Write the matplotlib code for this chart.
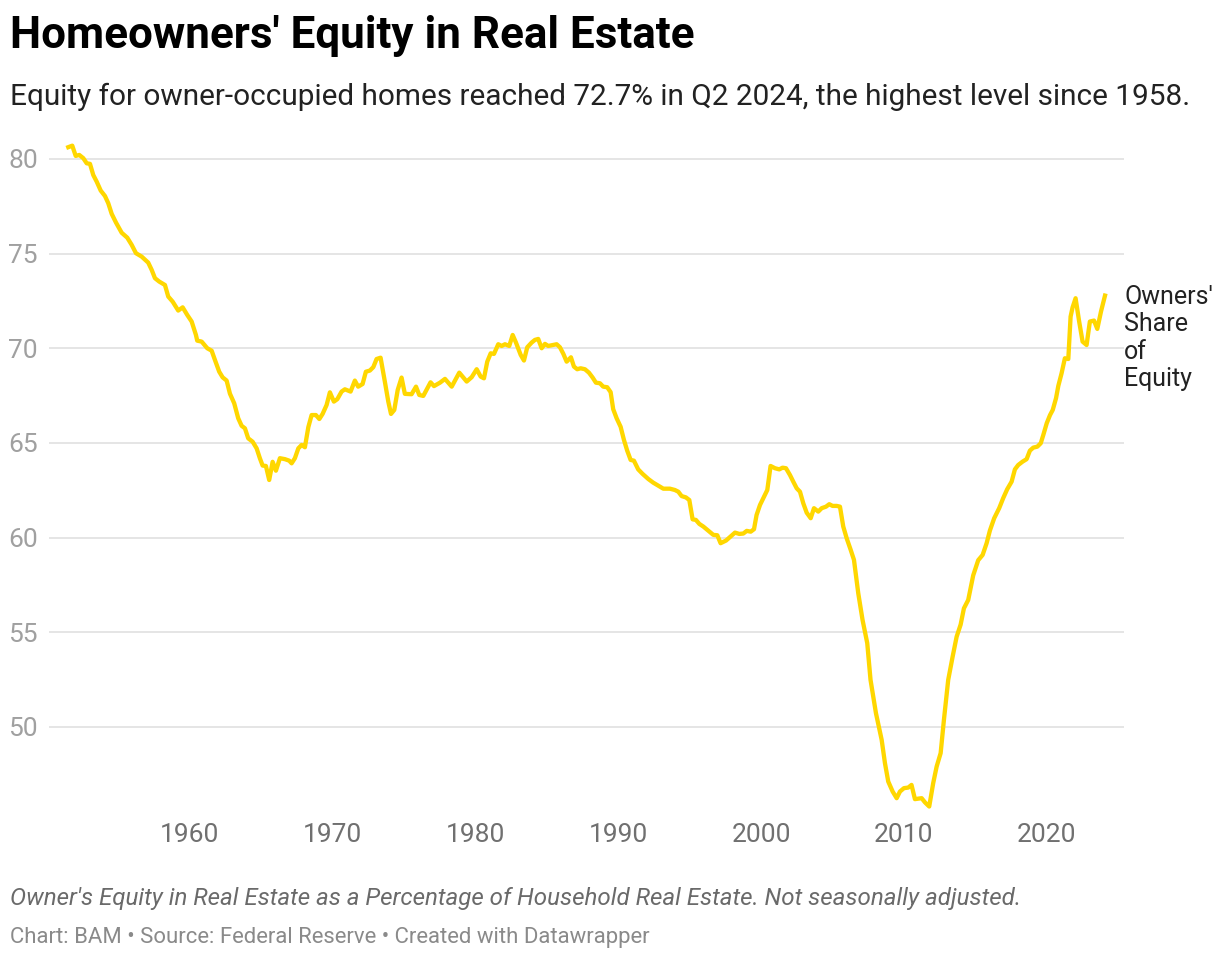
import matplotlib.pyplot as plt

# owners' equity as % of household real estate
years = [1951.48, 1951.76, 1952.00, 1952.25, 1952.53, 1952.77, 1953.00, 1953.23, 1953.47, 1953.75,
         1954.05, 1954.28, 1954.52, 1954.82, 1955.22, 1955.61, 1955.92, 1956.22, 1956.62, 1957.08,
         1957.32, 1957.55, 1957.85, 1958.25, 1958.48, 1958.79, 1959.18, 1959.49, 1959.81, 1960.12,
         1960.42, 1960.51, 1960.82, 1961.21, 1961.52, 1961.75, 1962.05, 1962.29, 1962.57, 1962.80,
         1963.10, 1963.38, 1963.62, 1963.85, 1964.08, 1964.39, 1964.67, 1964.90, 1965.09, 1965.32,
         1965.55, 1965.79, 1966.02, 1966.30, 1966.65, 1966.95, 1967.12, 1967.35, 1967.59, 1967.82,
         1968.05, 1968.29, 1968.52, 1968.82, 1969.06, 1969.29, 1969.57, 1969.80, 1970.08, 1970.32,
         1970.62, 1970.85, 1971.25, 1971.55, 1971.78, 1972.09, 1972.32, 1972.60, 1972.84, 1973.07,
         1973.35, 1973.65, 1973.89, 1974.08, 1974.31, 1974.55, 1974.82, 1975.05, 1975.52, 1975.83,
         1976.06, 1976.34, 1976.85, 1977.09, 1977.51, 1977.86, 1978.33, 1978.86, 1979.38, 1979.73,
         1980.08, 1980.36, 1980.59, 1980.82, 1981.06, 1981.29, 1981.59, 1981.83, 1982.06, 1982.36,
         1982.60, 1982.83, 1983.16, 1983.39, 1983.62, 1983.93, 1984.16, 1984.39, 1984.63, 1984.86,
         1985.09, 1985.40, 1985.68, 1985.91, 1986.15, 1986.38, 1986.68, 1986.89, 1987.12, 1987.36,
         1987.66, 1987.94, 1988.20, 1988.43, 1988.71, 1988.94, 1989.22, 1989.46, 1989.64, 1989.88,
         1990.16, 1990.39, 1990.62, 1990.86, 1991.09, 1991.39, 1991.70, 1992.10, 1992.44, 1992.79,
         1993.15, 1993.61, 1993.96, 1994.20, 1994.43, 1994.73, 1994.97, 1995.20, 1995.43, 1995.67,
         1995.95, 1996.30, 1996.65, 1996.93, 1997.16, 1997.54, 1997.86, 1998.17, 1998.47, 1998.75,
         1998.99, 1999.27, 1999.50, 1999.68, 1999.92, 2000.15, 2000.43, 2000.66, 2000.97, 2001.27,
         2001.50, 2001.74, 2002.02, 2002.25, 2002.49, 2002.72, 2002.95, 2003.19, 2003.47, 2003.70,
         2004.00, 2004.24, 2004.54, 2004.77, 2005.00, 2005.29, 2005.52, 2005.75, 2005.99, 2006.27,
         2006.50, 2006.80, 2007.10, 2007.43, 2007.66, 2008.04, 2008.44, 2008.67, 2008.90, 2009.21,
         2009.49, 2009.72, 2010.00, 2010.30, 2010.53, 2010.77, 2011.24, 2011.47, 2011.77, 2012.05,
         2012.29, 2012.57, 2012.80, 2013.10, 2013.41, 2013.69, 2013.97, 2014.20, 2014.50, 2014.85,
         2015.20, 2015.51, 2015.79, 2016.02, 2016.32, 2016.67, 2016.95, 2017.23, 2017.54, 2017.77,
         2018.00, 2018.31, 2018.59, 2018.82, 2019.06, 2019.34, 2019.58, 2019.76, 2020.00, 2020.23,
         2020.42, 2020.65, 2020.81, 2021.04, 2021.27, 2021.51, 2021.67, 2021.81, 2022.02, 2022.27,
         2022.51, 2022.79, 2023.02, 2023.31, 2023.54, 2023.80, 2024.08]
equity = [80.62, 80.70, 80.16, 80.21, 80.04, 79.77, 79.74, 79.15, 78.80, 78.33,
          78.04, 77.66, 77.10, 76.64, 76.10, 75.84, 75.46, 75.02, 74.84, 74.52,
          74.14, 73.70, 73.52, 73.34, 72.73, 72.46, 71.99, 72.16, 71.76, 71.41,
          70.70, 70.40, 70.35, 70.00, 69.87, 69.38, 68.76, 68.46, 68.29, 67.60,
          67.09, 66.30, 65.90, 65.77, 65.24, 65.06, 64.71, 64.18, 63.80, 63.78,
          63.04, 64.00, 63.53, 64.19, 64.14, 64.06, 63.92, 64.19, 64.71, 64.89,
          64.77, 65.83, 66.47, 66.47, 66.26, 66.53, 67.00, 67.67, 67.18, 67.31,
          67.71, 67.83, 67.71, 68.29, 67.97, 68.11, 68.76, 68.82, 69.00, 69.43,
          69.50, 68.23, 67.18, 66.53, 66.74, 67.80, 68.45, 67.59, 67.57, 67.97,
          67.53, 67.48, 68.20, 68.00, 68.18, 68.38, 67.97, 68.71, 68.24, 68.47,
          68.89, 68.50, 68.41, 69.29, 69.73, 69.70, 70.21, 70.12, 70.21, 70.12,
          70.70, 70.30, 69.65, 69.35, 70.05, 70.30, 70.44, 70.49, 70.00, 70.23,
          70.12, 70.17, 70.21, 70.05, 69.70, 69.29, 69.52, 69.03, 68.89, 68.94,
          68.89, 68.71, 68.45, 68.18, 68.15, 67.97, 67.94, 67.68, 66.78, 66.30,
          65.85, 65.16, 64.59, 64.10, 64.06, 63.60, 63.36, 63.09, 62.90, 62.74,
          62.58, 62.58, 62.51, 62.42, 62.19, 62.12, 61.98, 60.96, 60.93, 60.72,
          60.58, 60.36, 60.14, 60.12, 59.70, 59.84, 60.05, 60.26, 60.19, 60.21,
          60.35, 60.31, 60.44, 61.19, 61.72, 62.08, 62.51, 63.78, 63.66, 63.60,
          63.69, 63.66, 63.30, 62.95, 62.60, 62.42, 61.81, 61.31, 61.02, 61.55,
          61.37, 61.55, 61.63, 61.76, 61.67, 61.67, 61.63, 60.58, 59.96, 59.35,
          58.82, 57.06, 55.65, 54.42, 52.48, 50.72, 49.31, 48.08, 47.11, 46.58,
          46.23, 46.58, 46.76, 46.79, 46.93, 46.18, 46.23, 46.01, 45.79, 47.03,
          47.90, 48.61, 50.37, 52.48, 53.71, 54.76, 55.40, 56.26, 56.70, 58.00,
          58.80, 59.08, 59.70, 60.37, 61.02, 61.55, 62.08, 62.55, 62.95, 63.60,
          63.83, 64.01, 64.14, 64.59, 64.75, 64.80, 64.98, 65.42, 66.04, 66.47,
          66.74, 67.36, 68.01, 68.68, 69.47, 69.43, 71.67, 72.16, 72.64, 71.41,
          70.35, 70.17, 71.41, 71.46, 71.02, 71.94, 72.78]

x_ticks = [1960, 1970, 1980, 1990, 2000, 2010, 2020]
y_ticks = [50, 55, 60, 65, 70, 75, 80]

plt.rcParams['font.family'] = ['Roboto', 'DejaVu Sans']

W, H = 1220, 960
fig = plt.figure(figsize=(W / 100, H / 100), dpi=100)
ax = fig.add_axes([49 / W, 1 - 812 / H, (1124 - 49) / W, (812 - 140) / H])

ax.plot(years, equity, color='#ffd700', lw=3.1, solid_joinstyle='round', zorder=3)

ax.set_xlim(1950.13, 2025.41)
ax.set_ylim(45.5, 81.0)
ax.set_xticks(x_ticks)
ax.set_yticks(y_ticks)
ax.set_yticklabels([str(v) for v in y_ticks])
ax.grid(axis='y', color='#e3e3e3', lw=1.3)
ax.set_axisbelow(True)
for s in ax.spines.values():
    s.set_visible(False)
ax.tick_params(axis='y', length=0, pad=8, labelsize=19, labelcolor='#a0a0a0')
ax.tick_params(axis='x', length=0, pad=8, labelsize=19, labelcolor='#707070')

def ftext(x, y, s, **kw):
    fig.text(x / W, 1 - y / H, s, **kw)

ftext(10, 36, "Homeowners' Equity in Real Estate", fontsize=31.7, fontweight='bold',
      color='#000000', va='center')
ftext(10, 97, "Equity for owner-occupied homes reached 72.7% in Q2 2024, the highest level since 1958.",
      fontsize=21.4, color='#222222', va='center')
ftext(1124, 338, "Owners'\nShare\nof\nEquity", fontsize=18, color='#222222',
      va='center', ha='left', linespacing=1.16)
ftext(10, 899, "Owner's Equity in Real Estate as a Percentage of Household Real Estate. Not seasonally adjusted.",
      fontsize=17.4, style='italic', color='#6a6a6a', va='center')
ftext(10, 937, "Chart: BAM \u2022 Source: Federal Reserve \u2022 Created with Datawrapper",
      fontsize=15.9, color='#8a8a8a', va='center')

fig.savefig('out.png', dpi=100, facecolor='white')
